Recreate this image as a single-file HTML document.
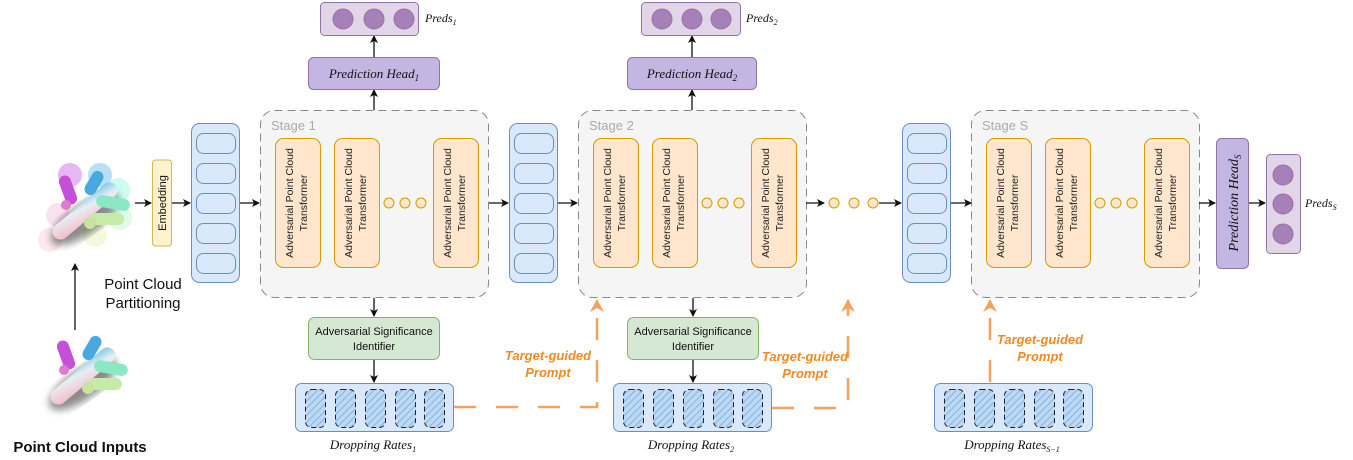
<!DOCTYPE html>
<html><head><meta charset="utf-8"><style>
html,body{margin:0;padding:0;background:#fff;}
svg{display:block;font-family:"Liberation Sans",sans-serif;}
.it{font-family:"Liberation Serif",serif;font-style:italic;}
.tr{font-size:10.5px;fill:#222;}
</style></head><body>
<svg width="1353" height="460" viewBox="0 0 1353 460" xmlns="http://www.w3.org/2000/svg">
<defs>
<marker id="ar" markerWidth="8" markerHeight="8" refX="7" refY="4" orient="auto" markerUnits="userSpaceOnUse"><path d="M0,0 L8,4 L0,8 L2,4z" fill="#111"/></marker>
<marker id="ao" markerWidth="14" markerHeight="14" refX="12" refY="7" orient="auto" markerUnits="userSpaceOnUse"><path d="M0,0 L13,7 L0,14 L4,7z" fill="#f5a25d"/></marker>
<pattern id="hat" width="5" height="5" patternUnits="userSpaceOnUse" patternTransform="rotate(45)"><rect width="5" height="5" fill="#bcd8f3"/><line x1="0" y1="0" x2="0" y2="5" stroke="#6fa8dc" stroke-width="1.5"/></pattern>
<filter id="bl"><feGaussianBlur stdDeviation="4"/></filter>
<linearGradient id="fus" x1="0" y1="1" x2="1" y2="0"><stop offset="0" stop-color="#f4b9c6"/><stop offset="0.6" stop-color="#e8eef3"/><stop offset="1" stop-color="#79c6e8"/></linearGradient>
<g id="plane">
<ellipse cx="45" cy="44" rx="40" ry="15" transform="rotate(-35 45 44)" fill="#000" opacity="0.45" filter="url(#bl)"/>
<rect x="5" y="28" width="80" height="16" rx="8" transform="rotate(-40 45 36)" fill="url(#fus)"/>
<rect x="22" y="0" width="12" height="30" rx="6" transform="rotate(-20 28 15)" fill="#c54fd8"/>
<rect x="48" y="-5" width="12" height="26" rx="6" transform="rotate(30 54 8)" fill="#4aa8e0"/>
<rect x="56" y="22" width="34" height="12" rx="6" transform="rotate(10 73 28)" fill="#8ae8c4"/>
<rect x="50" y="38" width="34" height="12" rx="6" fill="#c6eaa8"/>
<circle cx="26" cy="30" r="5" fill="#e07ad0"/><circle cx="50" cy="48" r="6" fill="#c8e2a0"/>
</g>
</defs>

<g transform="translate(40,160)">
<circle cx="30" cy="15" r="12" fill="#d070e8" opacity="0.5"/><circle cx="60" cy="15" r="12" fill="#60b8f0" opacity="0.45"/>
<circle cx="78" cy="30" r="12" fill="#70f0d8" opacity="0.35"/><circle cx="80" cy="58" r="12" fill="#a8f0b8" opacity="0.35"/>
<circle cx="18" cy="55" r="12" fill="#f0a8d0" opacity="0.35"/><circle cx="10" cy="80" r="12" fill="#f8c0c8" opacity="0.35"/>
<circle cx="55" cy="75" r="12" fill="#e0f0b0" opacity="0.4"/>
<use href="#plane" transform="translate(0,15)"/>
</g>
<g transform="translate(38,340)"><use href="#plane"/></g>
<line x1="75" y1="330" x2="75" y2="264" stroke="#111" stroke-width="1.3" marker-end="url(#ar)"/>
<text x="143" y="289" font-size="15" text-anchor="middle" fill="#111">Point Cloud</text>
<text x="143" y="308" font-size="15" text-anchor="middle" fill="#111">Partitioning</text>
<text x="80" y="452" font-size="15" font-weight="bold" text-anchor="middle" fill="#111">Point Cloud Inputs</text>

<line x1="135" y1="203" x2="151" y2="203" stroke="#111" stroke-width="1.3" marker-end="url(#ar)"/>
<rect x="152.5" y="160" width="19" height="86" rx="3" fill="#fff2cc" stroke="#d6b656"/>
<text transform="translate(166,203) rotate(-90)" font-size="11" text-anchor="middle" fill="#111">Embedding</text>
<line x1="172" y1="203" x2="190" y2="203" stroke="#111" stroke-width="1.3" marker-end="url(#ar)"/>

<g id="col">
<rect x="191.5" y="123.5" width="48" height="159" rx="8" fill="#dae8fc" stroke="#6c8ebf"/>
<rect x="196.5" y="133.5" width="39" height="20" rx="7" fill="#dae8fc" stroke="#6c8ebf"/>
<rect x="196.5" y="163.5" width="39" height="20" rx="7" fill="#dae8fc" stroke="#6c8ebf"/>
<rect x="196.5" y="193.5" width="39" height="20" rx="7" fill="#dae8fc" stroke="#6c8ebf"/>
<rect x="196.5" y="223.5" width="39" height="20" rx="7" fill="#dae8fc" stroke="#6c8ebf"/>
<rect x="196.5" y="253.5" width="39" height="20" rx="7" fill="#dae8fc" stroke="#6c8ebf"/>
</g>
<use href="#col" x="318"/>
<use href="#col" x="711"/>

<g id="stage">
<rect x="260.5" y="110.5" width="228" height="187" rx="14" fill="#f5f5f5" stroke="#888" stroke-dasharray="8,5"/>
<g id="apt">
<rect x="275.5" y="138.5" width="45" height="129" rx="8" fill="#ffe6cc" stroke="#d79b00"/>
<text transform="translate(293,203) rotate(-90)" class="tr" text-anchor="middle">Adversarial Point Cloud</text>
<text transform="translate(307,203) rotate(-90)" class="tr" text-anchor="middle">Transformer</text>
</g>
<use href="#apt" x="59"/>
<use href="#apt" x="158"/>
<circle cx="389" cy="203" r="5" fill="#ffe6cc" stroke="#d79b00"/>
<circle cx="405" cy="203" r="5" fill="#ffe6cc" stroke="#d79b00"/>
<circle cx="421" cy="203" r="5" fill="#ffe6cc" stroke="#d79b00"/>
</g>
<text x="271" y="130" font-size="13" fill="#aaa">Stage 1</text>
<use href="#stage" x="318"/>
<text x="589" y="130" font-size="13" fill="#aaa">Stage 2</text>
<use href="#stage" x="711"/>
<text x="982" y="130" font-size="13" fill="#aaa">Stage S</text>

<g stroke="#111" stroke-width="1.3" marker-end="url(#ar)">
<line x1="240" y1="203" x2="259" y2="203"/>
<line x1="489" y1="203" x2="508" y2="203"/>
<line x1="558" y1="203" x2="577" y2="203"/>
<line x1="806" y1="203" x2="824" y2="203"/>
<line x1="879" y1="203" x2="901" y2="203"/>
<line x1="951" y1="203" x2="971" y2="203"/>
<line x1="1199" y1="203" x2="1215" y2="203"/>
<line x1="1248" y1="203" x2="1265" y2="203"/>
<line x1="374" y1="110" x2="374" y2="90"/>
<line x1="374" y1="57" x2="374" y2="36"/>
<line x1="692" y1="110" x2="692" y2="90"/>
<line x1="692" y1="57" x2="692" y2="36"/>
<line x1="374" y1="298" x2="374" y2="316"/>
<line x1="374" y1="359" x2="374" y2="382"/>
<line x1="693" y1="298" x2="693" y2="316"/>
<line x1="693" y1="359" x2="693" y2="382"/>
</g>
<circle cx="834" cy="203" r="5" fill="#ffe6cc" stroke="#d79b00"/>
<circle cx="854" cy="203" r="5" fill="#ffe6cc" stroke="#d79b00"/>
<circle cx="873" cy="203" r="5" fill="#ffe6cc" stroke="#d79b00"/>

<rect x="308.5" y="57.5" width="131" height="32" rx="5" fill="#c3b6e3" stroke="#9673a6"/>
<text x="374" y="78" class="it" font-size="13" text-anchor="middle" fill="#111">Prediction Head<tspan font-size="9" dy="3">1</tspan></text>
<rect x="627.5" y="57.5" width="129" height="32" rx="5" fill="#c3b6e3" stroke="#9673a6"/>
<text x="692" y="78" class="it" font-size="13" text-anchor="middle" fill="#111">Prediction Head<tspan font-size="9" dy="3">2</tspan></text>
<rect x="1216.5" y="138.5" width="32" height="130" rx="5" fill="#c3b6e3" stroke="#9673a6"/>
<text transform="translate(1238,203) rotate(-90)" class="it" font-size="14" text-anchor="middle" fill="#111">Prediction Head<tspan font-size="9" dy="3">S</tspan></text>

<rect x="320.5" y="2.5" width="98" height="33" rx="4" fill="#e1d5e7" stroke="#9673a6"/>
<g fill="#a680b8" stroke="#9673a6"><circle cx="343" cy="19" r="10"/><circle cx="374" cy="19" r="10"/><circle cx="404" cy="19" r="10"/></g>
<text x="425" y="22" class="it" font-size="12" fill="#111">Preds<tspan font-size="8" dy="3">1</tspan></text>
<rect x="641.5" y="2.5" width="99" height="33" rx="4" fill="#e1d5e7" stroke="#9673a6"/>
<g fill="#a680b8" stroke="#9673a6"><circle cx="662" cy="19" r="10"/><circle cx="692" cy="19" r="10"/><circle cx="721" cy="19" r="10"/></g>
<text x="746" y="22" class="it" font-size="12" fill="#111">Preds<tspan font-size="8" dy="3">2</tspan></text>
<rect x="1266.5" y="154.5" width="34" height="99" rx="4" fill="#e1d5e7" stroke="#9673a6"/>
<g fill="#a680b8" stroke="#9673a6"><circle cx="1283" cy="175" r="10"/><circle cx="1283" cy="204" r="10"/><circle cx="1283" cy="234" r="10"/></g>
<text x="1305" y="207" class="it" font-size="12" fill="#111">Preds<tspan font-size="8" dy="3">S</tspan></text>

<rect x="308.5" y="317.5" width="131" height="42" rx="6" fill="#d5e8d4" stroke="#82b366"/>
<text x="374" y="335" font-size="11" text-anchor="middle" fill="#111">Adversarial Significance</text>
<text x="374" y="350" font-size="11" text-anchor="middle" fill="#111">Identifier</text>
<rect x="627.5" y="317.5" width="131" height="42" rx="6" fill="#d5e8d4" stroke="#82b366"/>
<text x="693" y="335" font-size="11" text-anchor="middle" fill="#111">Adversarial Significance</text>
<text x="693" y="350" font-size="11" text-anchor="middle" fill="#111">Identifier</text>

<g id="dr">
<rect x="295.5" y="383.5" width="158" height="48" rx="6" fill="#dae8fc" stroke="#6c8ebf"/>
<g fill="url(#hat)" stroke="#222" stroke-dasharray="5,3">
<rect x="305.5" y="389.5" width="20" height="38" rx="6"/>
<rect x="335.5" y="389.5" width="20" height="38" rx="6"/>
<rect x="365.5" y="389.5" width="20" height="38" rx="6"/>
<rect x="395.5" y="389.5" width="20" height="38" rx="6"/>
<rect x="424.5" y="389.5" width="20" height="38" rx="6"/>
</g>
</g>
<use href="#dr" x="318"/>
<use href="#dr" x="639"/>
<text x="373" y="449" class="it" font-size="13" text-anchor="middle" fill="#111">Dropping Rates<tspan font-size="8" dy="3">1</tspan></text>
<text x="691" y="449" class="it" font-size="13" text-anchor="middle" fill="#111">Dropping Rates<tspan font-size="8" dy="3">2</tspan></text>
<text x="1012" y="449" class="it" font-size="13" text-anchor="middle" fill="#111">Dropping Rates<tspan font-size="8" dy="3">S−1</tspan></text>

<g fill="none" stroke="#f5a25d" stroke-width="2.5" stroke-dasharray="22,20">
<path d="M454,407 L597,407 L597,300" marker-end="url(#ao)"/>
<path d="M772,408 L848,408 L848,300" marker-end="url(#ao)"/>
<path d="M990,382 L990,300" marker-end="url(#ao)"/>
</g>
<g font-size="13" font-weight="bold" font-style="italic" fill="#f08a24" text-anchor="middle">
<text x="548" y="360">Target-guided</text><text x="548" y="377">Prompt</text>
<text x="805" y="361">Target-guided</text><text x="805" y="378">Prompt</text>
<text x="1040" y="344">Target-guided</text><text x="1040" y="361">Prompt</text>
</g>
</svg>
</body></html>
